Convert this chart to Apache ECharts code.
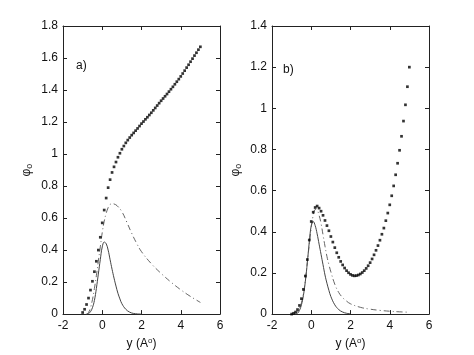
<!DOCTYPE html>
<html><head><meta charset="utf-8">
<script src="https://cdn.jsdelivr.net/npm/echarts@6/dist/echarts.min.js"></script>
<style>html,body{margin:0;padding:0;background:#fff}#c{width:474px;height:355px}</style>
</head><body><div id="c"></div>
<script>
// ---- data ----
const xTicks = [-2, 0, 2, 4, 6];
const xDots = [-1.0,-0.9,-0.8,-0.7,-0.6,-0.5,-0.4,-0.3,-0.2,-0.1,0.0,0.1,0.2,0.3,0.4,0.5,0.6,0.7,0.8,0.9,
  1.0,1.1,1.2,1.3,1.4,1.5,1.6,1.7,1.8,1.9,2.0,2.1,2.2,2.3,2.4,2.5,2.6,2.7,2.8,2.9,
  3.0,3.1,3.2,3.3,3.4,3.5,3.6,3.7,3.8,3.9,4.0,4.1,4.2,4.3,4.4,4.5,4.6,4.7,4.8,4.9,5.0];
const dotsA = [0.01,0.03,0.06,0.10,0.15,0.205,0.265,0.33,0.40,0.48,0.57,0.65,0.725,0.79,0.84,0.885,0.92,0.95,0.98,1.005,
  1.03,1.05,1.07,1.087,1.103,1.118,1.132,1.146,1.16,1.175,1.19,1.203,1.217,1.23,1.244,1.258,1.273,1.288,1.303,1.318,
  1.333,1.347,1.361,1.375,1.39,1.405,1.42,1.436,1.452,1.468,1.485,1.503,1.521,1.54,1.558,1.577,1.596,1.615,1.633,1.652,1.67];
const dotsB = [0.0,0.004,0.01,0.022,0.042,0.075,0.12,0.185,0.265,0.36,0.45,0.495,0.518,0.525,0.515,0.50,0.48,0.455,0.43,0.405,
  0.377,0.35,0.323,0.298,0.276,0.256,0.239,0.224,0.211,0.201,0.193,0.188,0.186,0.187,0.19,0.195,0.202,0.211,0.222,0.235,
  0.25,0.268,0.288,0.31,0.333,0.359,0.388,0.418,0.454,0.491,0.531,0.575,0.623,0.677,0.733,0.796,0.864,0.938,1.017,1.105,1.2];
const xSolid = [-0.8,-0.7,-0.6,-0.5,-0.4,-0.3,-0.2,-0.1,0,0.1,0.2,0.3,0.4,0.5,0.6,0.7,0.8,0.9,1.0,1.2,1.4,1.6,1.8,2.0];
const solidA = [0,0.003,0.015,0.04,0.085,0.16,0.25,0.34,0.42,0.45,0.44,0.40,0.34,0.28,0.225,0.175,0.13,0.095,0.065,0.03,0.012,0.004,0.001,0];
const solidB = [0,0.004,0.018,0.045,0.09,0.16,0.25,0.35,0.43,0.45,0.43,0.39,0.34,0.29,0.24,0.19,0.15,0.115,0.085,0.045,0.022,0.01,0.004,0.001];
const xDashA = [-0.8,-0.7,-0.6,-0.5,-0.4,-0.3,-0.2,-0.1,0,0.1,0.2,0.3,0.4,0.5,0.6,0.75,1.0,1.25,1.5,1.75,2.0,2.5,3.0,3.5,4.0,4.5,5.0];
const dashA = [0,0.01,0.04,0.09,0.16,0.24,0.33,0.42,0.51,0.58,0.63,0.665,0.685,0.69,0.688,0.678,0.64,0.575,0.505,0.443,0.39,0.315,0.254,0.2,0.152,0.11,0.073];
const xDashB = [-0.9,-0.8,-0.7,-0.6,-0.5,-0.4,-0.3,-0.2,-0.1,0,0.1,0.2,0.3,0.4,0.5,0.6,0.7,0.8,0.9,1.0,1.2,1.4,1.6,1.8,2.0,2.5,3.0,3.5,4.0,4.5,5.0];
const dashB = [0,0.004,0.012,0.028,0.055,0.1,0.165,0.25,0.34,0.42,0.48,0.508,0.505,0.48,0.44,0.385,0.33,0.28,0.24,0.205,0.145,0.105,0.08,0.063,0.05,0.033,0.024,0.018,0.014,0.011,0.009];
const panelLabels = ['a)', 'b)'];
const yMaxA = 1.8, yMaxB = 1.4;

function pairs(xs, ys){ return xs.map((x,i)=>[x, ys[i]]); }

const font = 'Liberation Sans, Arial, sans-serif';
const axisColor = '#222';
function xAx(gi, main){
  return {type:'value', gridIndex:gi, min:-2, max:6, interval:2, position: main?'bottom':'top',
    axisLine:{show:true, onZero:false, lineStyle:{color:axisColor, width:1}},
    axisTick:{show:true, inside:true, length:4, lineStyle:{color:axisColor}},
    axisLabel:{show:main, color:'#111', fontSize:12, fontFamily:font, margin:6},
    splitLine:{show:false},
    name: main ? '{t|y (A}{s|o}{t|)}' : '', nameLocation:'middle', nameGap:21,
    nameTextStyle:{rich:{t:{fontSize:12, fontFamily:font, color:'#111'}, s:{fontSize:8, fontFamily:font, color:'#111', verticalAlign:'top', padding:[0,0,6,0]}}}
  };
}
function yAx(gi, main, max){
  return {type:'value', gridIndex:gi, min:0, max:max, interval:0.2, position: main?'left':'right',
    axisLine:{show:true, onZero:false, lineStyle:{color:axisColor, width:1}},
    axisTick:{show:true, inside:true, length:4, lineStyle:{color:axisColor}},
    axisLabel:{show:main, color:'#111', fontSize:12, fontFamily:font, margin:5,
      formatter: v => (Math.round(v*10)/10).toString()},
    splitLine:{show:false},
    name: main ? '{t|φ}{s|o}' : '', nameLocation:'middle', nameGap:29, nameRotate:90,
    nameTextStyle:{rich:{t:{fontSize:12, fontFamily:font, color:'#111'}, s:{fontSize:9, fontFamily:font, color:'#111', padding:[6,0,0,0]}}}
  };
}
function dots(xi, yi, ys){
  return {type:'scatter', xAxisIndex:xi, yAxisIndex:yi, data:pairs(xDots, ys), symbol:'rect', symbolSize:2.7,
    itemStyle:{color:'#000'}, silent:true, z:5};
}
function solid(xi, yi, xs, ys){
  return {type:'line', xAxisIndex:xi, yAxisIndex:yi, data:pairs(xs, ys), smooth:0.4, showSymbol:false,
    lineStyle:{color:'#444', width:1}, silent:true};
}
function dashdot(xi, yi, xs, ys){
  return {type:'line', xAxisIndex:xi, yAxisIndex:yi, data:pairs(xs, ys), smooth:0.4, showSymbol:false,
    lineStyle:{color:'#555', width:0.9, type:[6,3,1,3]}, silent:true};
}

const chart = echarts.init(document.getElementById('c'), null, {renderer:'canvas'});
chart.setOption({
  animation:false,
  backgroundColor:'#fff',
  grid:[
    {left:63, right:254, top:26, bottom:40},
    {left:272, right:45, top:26, bottom:40}
  ],
  xAxis:[xAx(0,true), xAx(0,false), xAx(1,true), xAx(1,false)],
  yAxis:[yAx(0,true,yMaxA), yAx(0,false,yMaxA), yAx(1,true,yMaxB), yAx(1,false,yMaxB)],
  graphic:[
    {type:'text', left:76, top:60, style:{text:panelLabels[0], font:'12px '+font, fill:'#111'}},
    {type:'text', left:283, top:64, style:{text:panelLabels[1], font:'12px '+font, fill:'#111'}}
  ],
  series:[
    solid(0,0,xSolid,solidA),
    dashdot(0,0,xDashA,dashA),
    dots(0,0,dotsA),
    solid(2,2,xSolid,solidB),
    dashdot(2,2,xDashB,dashB),
    dots(2,2,dotsB)
  ]
});
</script></body></html>
